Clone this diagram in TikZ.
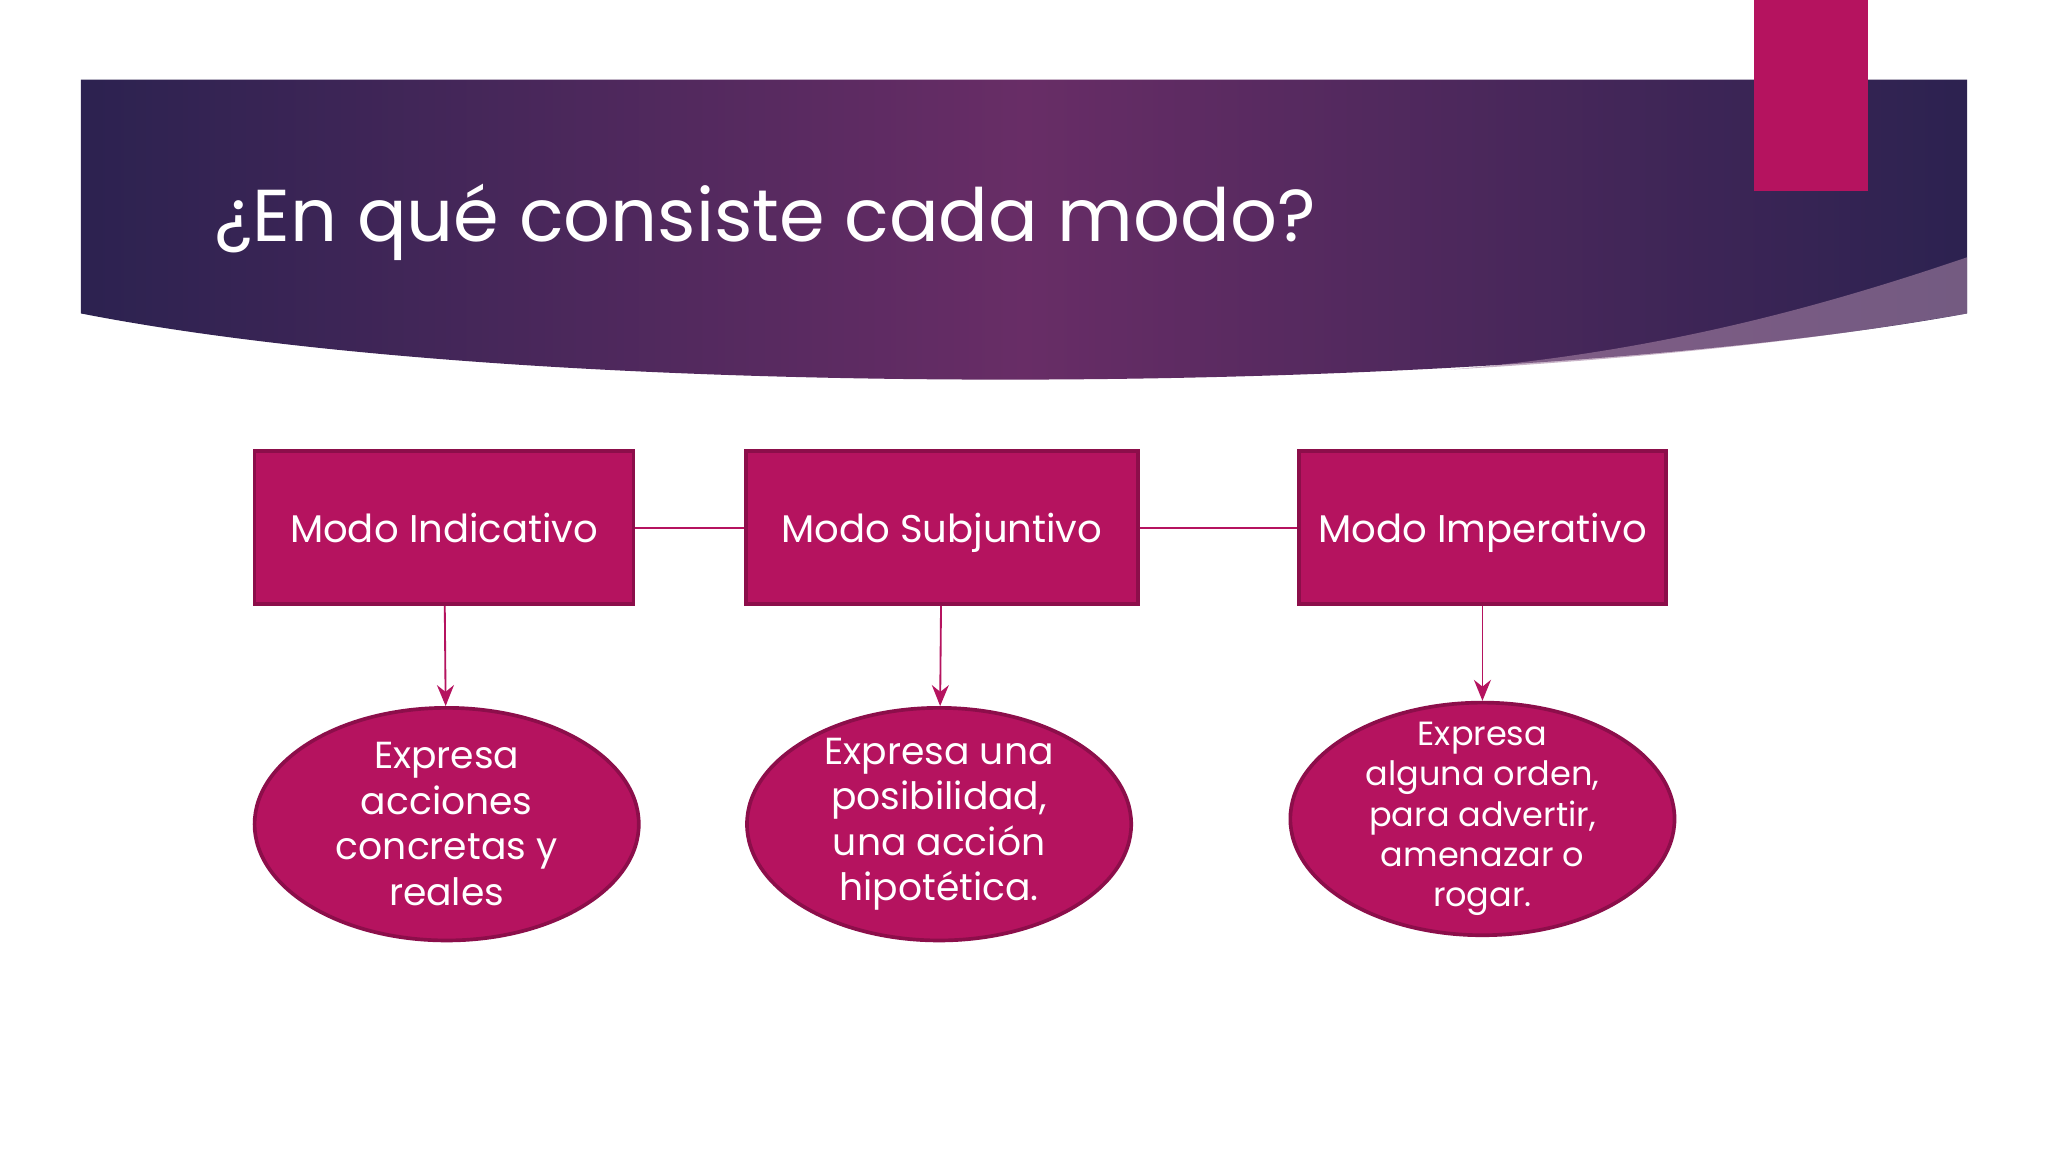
\documentclass[tikz,border=0pt]{standalone}
\usepackage{fontspec}
\setmainfont{Poppins}
\usetikzlibrary{shapes.geometric,arrows.meta}
\definecolor{magenta}{HTML}{B5135F}
\definecolor{magline}{HTML}{8C0E4A}
\definecolor{darkpurple}{HTML}{2C2250}
\definecolor{midpurple}{HTML}{682D66}
\tikzset{
  mode/.style={draw=magline, thick, fill=magenta, text=white, rectangle, inner sep=0pt, text height=1.6ex, text depth=0.45ex, minimum width=2.9cm, minimum height=1.17cm, font=\fontsize{8.4}{10}\selectfont},
  desc/.style={draw=magline, thick, fill=magenta, text=white, ellipse, inner sep=-8pt, minimum width=2.94cm, minimum height=1.78cm, align=center, font=\fontsize{8.2}{9.9}\selectfont},
  link/.style={magenta, thin},
  arr/.style={magenta, thin, -{Stealth[length=1.6mm,width=1.3mm]}}
}
\begin{document}
\begin{tikzpicture}[x=0.01cm,y=-0.01cm]
\useasboundingbox (0,0) rectangle (1568,882);
\fill[white] (0,0) rectangle (1568,882);
% Header band
\shade[left color=darkpurple, right color=darkpurple, middle color=midpurple]
  (62,61) -- (1506,61) -- (1506,240) .. controls (1150,305) and (420,310) .. (62,240) -- cycle;
\fill[white!40!midpurple, opacity=0.6] (1506,197) .. controls (1380,240) and (1260,270) .. (1110,283) .. controls (1300,272) and (1420,255) .. (1506,240) -- cycle;
\fill[magenta] (1343,0) rectangle (1430,146);
\node[anchor=west, text=white, font=\fontsize{16}{20}\selectfont] (title) at (152,170) {¿En qué consiste cada modo?};

% Modes
\node[mode] (indicativo) at (340,404) {Modo Indicativo};
\node[mode, minimum width=3cm] (subjuntivo) at (721,404) {Modo Subjuntivo};
\node[mode, minimum width=2.81cm] (imperativo) at (1135,404) {Modo Imperativo};

% Descriptions
\node[desc] (real) at (342,631) {Expresa\\acciones\\concretas y\\reales};
\node[desc] (posible) at (719,631) {Expresa una\\posibilidad,\\una acción\\hipotética.};
\node[desc, font=\fontsize{7.3}{8.8}\selectfont] (orden) at (1135,627) {Expresa\\alguna orden,\\para advertir,\\amenazar o\\rogar.};

% Connectors
\draw[link] (indicativo) -- (subjuntivo);
\draw[link] (subjuntivo) -- (imperativo);
\draw[arr] (indicativo) -- (real);
\draw[arr] (subjuntivo) -- (posible);
\draw[arr] (imperativo) -- (orden);
\end{tikzpicture}
\end{document}
